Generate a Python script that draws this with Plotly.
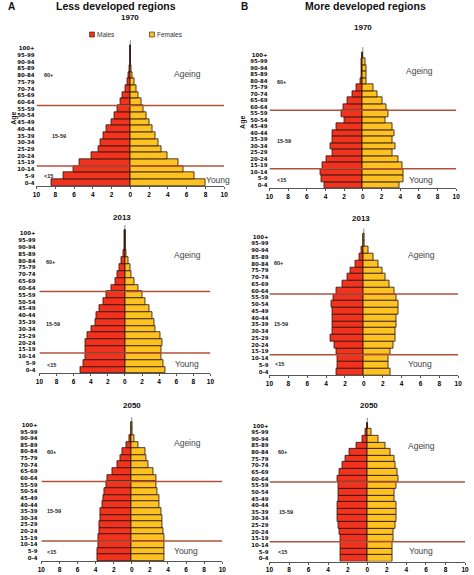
import plotly.graph_objects as go

W, H = 474, 575

ages = ['0-4', '5-9', '10-14', '15-19', '20-24', '25-29', '30-34', '35-39', '40-44',
        '45-49', '50-54', '55-59', '60-64', '65-69', '70-74', '75-79', '80-84',
        '85-89', '90-94', '95-99', '100+']

males_less_1970 = [8.4, 7.1, 6.1, 5.4, 4.1, 3.45, 3.2, 2.9, 2.5, 2.05, 1.7, 1.4, 1.1, 0.8, 0.5, 0.3, 0.15, 0.07, 0.03, 0.01, 0.0]
females_less_1970 = [8.0, 6.8, 5.7, 5.1, 3.9, 3.3, 3.0, 2.7, 2.35, 2.0, 1.7, 1.4, 1.15, 0.9, 0.65, 0.4, 0.2, 0.08, 0.04, 0.01, 0.0]

males_more_1970 = [4.1, 4.4, 4.55, 4.35, 3.95, 3.3, 3.5, 3.25, 3.3, 2.8, 2.0, 2.3, 2.1, 1.6, 1.1, 0.7, 0.3, 0.2, 0.15, 0.1, 0.0]
females_more_1970 = [3.9, 4.3, 4.4, 4.2, 3.85, 3.2, 3.45, 3.2, 3.4, 3.2, 2.45, 2.75, 2.5, 2.1, 1.6, 1.1, 0.35, 0.35, 0.35, 0.25, 0.0]

males_less_2013 = [5.2, 4.85, 4.65, 4.65, 4.6, 4.35, 3.9, 3.5, 3.3, 3.0, 2.55, 2.2, 1.6, 1.1, 0.85, 0.6, 0.4, 0.2, 0.08, 0.03, 0.01]
females_less_2013 = [4.75, 4.5, 4.3, 4.3, 4.35, 4.2, 3.6, 3.4, 3.2, 2.85, 2.45, 2.05, 1.6, 1.1, 0.8, 0.6, 0.4, 0.2, 0.08, 0.03, 0.01]

males_more_2013 = [2.85, 2.8, 2.8, 2.85, 3.1, 3.55, 3.35, 3.35, 3.35, 3.35, 3.45, 3.2, 2.85, 2.3, 1.75, 1.4, 0.9, 0.45, 0.2, 0.07, 0.01]
females_more_2013 = [2.8, 2.65, 2.65, 2.8, 3.15, 3.4, 3.4, 3.45, 3.5, 3.65, 3.7, 3.45, 3.2, 2.7, 2.25, 1.95, 1.5, 1.0, 0.45, 0.1, 0.02]

males_less_2050 = [3.8, 3.8, 3.7, 3.7, 3.6, 3.55, 3.5, 3.45, 3.3, 3.15, 3.0, 2.85, 2.7, 2.15, 1.65, 1.3, 1.1, 0.6, 0.25, 0.07, 0.02]
females_less_2050 = [3.65, 3.65, 3.55, 3.55, 3.5, 3.4, 3.4, 3.25, 3.1, 3.0, 2.85, 2.75, 2.75, 2.35, 1.85, 1.65, 1.45, 0.75, 0.3, 0.1, 0.03]

males_more_2050 = [2.75, 2.75, 2.75, 2.75, 2.85, 2.95, 3.0, 3.0, 3.0, 2.9, 2.9, 2.95, 3.05, 2.85, 2.5, 2.25, 1.8, 1.15, 0.5, 0.15, 0.03]
females_more_2050 = [2.6, 2.6, 2.6, 2.7, 2.7, 2.85, 2.95, 2.95, 2.95, 2.8, 2.8, 3.0, 3.2, 3.1, 2.9, 2.75, 2.35, 1.85, 1.1, 0.4, 0.05]

x_ticks = [-10, -8, -6, -4, -2, 0, 2, 4, 6, 8, 10]
x_tick_labels = ['10', '8', '6', '4', '2', '0', '2', '4', '6', '8', '10']
years = ['1970', '1970', '2013', '2013', '2050', '2050']
series = [
    (males_less_1970, females_less_1970),
    (males_more_1970, females_more_1970),
    (males_less_2013, females_less_2013),
    (males_more_2013, females_more_2013),
    (males_less_2050, females_less_2050),
    (males_more_2050, females_more_2050),
]

# layout (pixels): x of -10, x of +10, y centre of 100+, y centre of 0-4, age-label axis position, year-title position
panels = [
    dict(xl=33, xr=224, ytop=48.3, ybot=182.7, lab=31, yr=(128, 18)),
    dict(xl=270, xr=460, ytop=55, ybot=185, lab=268, yr=(365, 28)),
    dict(xl=36, xr=210, ytop=233.3, ybot=370, lab=32, yr=(120, 217)),
    dict(xl=270, xr=462, ytop=236.7, ybot=371.7, lab=269, yr=(363, 219)),
    dict(xl=38, xr=222, ytop=425, ybot=557.7, lab=34, yr=(130, 405)),
    dict(xl=270, xr=469, ytop=425.7, ybot=558.3, lab=269, yr=(371, 405)),
]
# annotation placements in data units: (x, y) for 60+, 15-59, <15, Ageing, Young
notes = [
    [(-9.4, 16), (-8.6, 7), (-9.4, 1), (6.1, 16.2), (9.3, 0.45)],
    [(-9.4, 15.9), (-9.4, 6.8), (-9.4, 0.8), (6.1, 17.5), (6.2, 0.8)],
    [(-9.5, 15.8), (-9.5, 6.7), (-9.4, 0.7), (7.3, 16.8), (7.3, 0.9)],
    [(-9.7, 16.1), (-9.7, 7.1), (-9.6, 1.2), (6.1, 17.3), (6.0, 1.2)],
    [(-9.6, 15.9), (-9.6, 7.1), (-9.6, 0.9), (6.2, 17.3), (6.0, 1.05)],
    [(-9.3, 16.1), (-9.2, 7.0), (-9.3, 0.9), (5.5, 17.0), (5.5, 1.05)],
]

RED = '#f0321e'
GOLD = '#fcc221'
EDGE = '#2a1208'
SEP = '#b2503a'
FONT = 'Liberation Sans, Arial, sans-serif'

fig = go.Figure()
shapes = []
annotations = []
yidx = list(range(len(ages)))

for i, (p, (m, f)) in enumerate(zip(panels, series)):
    k = '' if i == 0 else str(i + 1)
    xa, ya = 'x' + k, 'y' + k
    fig.add_trace(go.Bar(y=yidx, x=[-v for v in m], orientation='h', xaxis=xa, yaxis=ya,
                         marker=dict(color=RED, line=dict(color=EDGE, width=0.8)),
                         name='Males', showlegend=False, width=1.0))
    fig.add_trace(go.Bar(y=yidx, x=f, orientation='h', xaxis=xa, yaxis=ya,
                         marker=dict(color=GOLD, line=dict(color=EDGE, width=0.8)),
                         name='Females', showlegend=False, width=1.0))
    step = (p['ybot'] - p['ytop']) / 20.0
    top = p['ytop'] - 1.5 * step
    bot = p['ybot'] + 0.5 * step
    fig.layout['xaxis' + k] = dict(
        domain=[p['xl'] / W, p['xr'] / W], range=[-10, 10], anchor=ya,
        tickvals=x_ticks, ticktext=x_tick_labels, ticks='outside', ticklen=2,
        tickcolor='#555', showline=True, linecolor='#555', linewidth=0.8,
        showgrid=False, zeroline=False, fixedrange=True,
        tickfont=dict(family=FONT, size=6.5, color='#000', weight='bold'))
    fig.layout['yaxis' + k] = dict(
        domain=[1 - bot / H, 1 - top / H], range=[-0.5, 21.5], anchor='free',
        position=p['lab'] / W, tickvals=yidx, ticktext=ages, ticks='',
        showline=False, showgrid=False, zeroline=False, fixedrange=True,
        tickfont=dict(family='DejaVu Sans, sans-serif', size=5.4, color='#111', weight='bold'))
    shapes.append(dict(type='line', xref=xa, yref=ya, x0=0, x1=0, y0=-0.5, y1=21.2,
                       line=dict(color='#888', width=1), layer='below'))
    for yl in (11.5, 2.5):
        shapes.append(dict(type='line', xref=xa, yref=ya, x0=-10, x1=10, y0=yl, y1=yl,
                           line=dict(color=SEP, width=1.5)))
    n = notes[i]
    for (txt, (ax, ay)) in zip(['60+', '15-59', '<15'], n[:3]):
        annotations.append(dict(text=txt, x=ax, y=ay, xref=xa, yref=ya, showarrow=False,
                                xanchor='left', yanchor='middle',
                                font=dict(family=FONT, size=5.5, color='#222', weight='bold')))
    for (txt, (ax, ay)) in zip(['Ageing', 'Young'], n[3:]):
        annotations.append(dict(text=txt, x=ax, y=ay, xref=xa, yref=ya, showarrow=False,
                                xanchor='center', yanchor='middle',
                                font=dict(family=FONT, size=8.5, color='#444')))
    annotations.append(dict(text=years[i], x=p['yr'][0] / W, y=1 - p['yr'][1] / H,
                            xref='paper', yref='paper', showarrow=False,
                            xanchor='center', yanchor='middle',
                            font=dict(family=FONT, size=8, color='#111', weight='bold')))

# headers
for txt, px, py, sz, anc in [('A', 2, 6, 10, 'left'), ('B', 239, 6, 10, 'left'),
                             ('Less developed regions', 114, 6, 10.5, 'center'),
                             ('More developed regions', 368, 6, 10.5, 'center')]:
    annotations.append(dict(text=txt, x=px / W, y=1 - py / H, xref='paper', yref='paper',
                            showarrow=False, xanchor=anc, yanchor='middle',
                            font=dict(family=FONT, size=sz, color='#111', weight='bold')))
for px, py in [(10, 118), (243, 122)]:
    annotations.append(dict(text='Age', x=px / W, y=1 - py / H, xref='paper', yref='paper',
                            showarrow=False, textangle=-90, xanchor='center', yanchor='middle',
                            font=dict(family=FONT, size=7, color='#111', weight='bold')))

# legend (drawn in panel A 1970 header area)
for col, x0, txt in [(RED, 87, 'Males'), (GOLD, 148, 'Females')]:
    shapes.append(dict(type='rect', xref='paper', yref='paper', x0=x0 / W, x1=(x0 + 5) / W,
                       y0=1 - 37 / H, y1=1 - 32 / H, fillcolor=col,
                       line=dict(color=EDGE, width=0.6)))
    annotations.append(dict(text=txt, x=(x0 + 6) / W, y=1 - 34.5 / H, xref='paper', yref='paper',
                            showarrow=False, xanchor='left', yanchor='middle',
                            font=dict(family=FONT, size=6.5, color='#333')))

fig.update_layout(width=W, height=H, margin=dict(l=0, r=0, t=0, b=0),
                  paper_bgcolor='white', plot_bgcolor='white', barmode='overlay',
                  bargap=0, showlegend=False, shapes=shapes, annotations=annotations)

fig.write_html('out.html', config={'displayModeBar': False})
